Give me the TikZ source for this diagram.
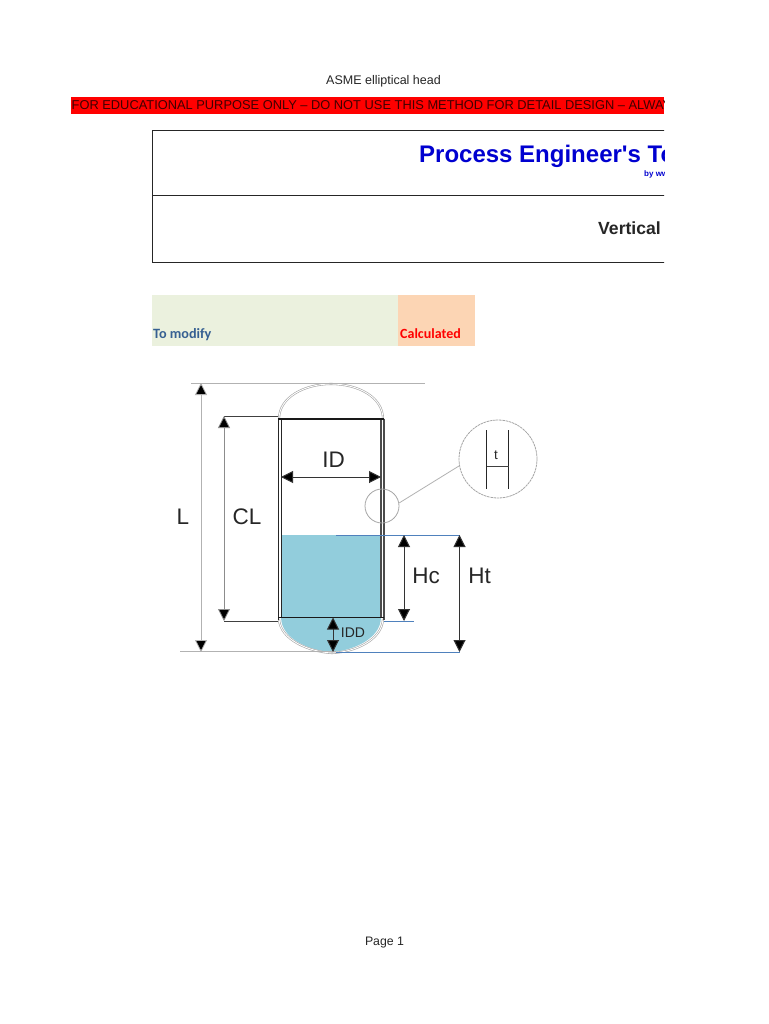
\documentclass[tikz,border=0pt]{standalone}
\usepackage{fontspec}
\setmainfont{Liberation Sans}
\newfontfamily\plainsans{Liberation Sans}
\newfontfamily\carl{Carlito}
\usetikzlibrary{arrows.meta}
\definecolor{liquid}{HTML}{92CDDC}
\definecolor{bluel}{HTML}{4F81BD}
\definecolor{legG}{HTML}{EBF1DE}
\definecolor{legO}{HTML}{FCD5B4}
\definecolor{legB}{HTML}{366092}
\definecolor{titleB}{HTML}{0000D0}
\tikzset{
  x=1pt,y=-1pt,
  txt/.style={inner sep=0pt,font=\fontsize{#1}{#1}\selectfont,text=black!85},
  tipped/.style={{Triangle[length=12pt,width=12pt,fill=black]}-{Triangle[length=12pt,width=12pt,fill=black]}},
  dimarrow/.style={draw=black!80,line width=1pt,tipped},
  ext/.style={draw=black!75,line width=1pt},
  bluer/.style={draw=bluel,line width=1pt},
  faint/.style={draw=black!30,line width=0.9pt},
  head/.style={draw=black!35,line width=0.6pt,double=white,double distance=0.9pt},
}
\begin{document}
\begin{tikzpicture}
\useasboundingbox (0,0) rectangle (768,1024);
\fill[white] (0,0) rectangle (768,1024);
\node[txt=12.5] (asme) at (383.5,81) {ASME elliptical head};
\node[txt=12.3] (page) at (384.5,943) {Page 1};
% clipped page content
\begin{scope}
\clip (0,0) rectangle (664,1024);
\fill[red] (71,97) rectangle (664,114);
\node[txt=12.85,anchor=west,text=black!75!red] (warn) at (71.5,105.5) {FOR EDUCATIONAL PURPOSE ONLY – DO NOT USE THIS METHOD FOR DETAIL DESIGN – ALWAY};
\draw[black!85,line width=1pt] (152,131) -- (680,131) (152,196) -- (680,196) (152,262) -- (680,262) (152,131) -- (152,262);
\node[anchor=base west,inner sep=0pt,text=titleB,font=\plainsans\fontsize{24}{24}\selectfont\bfseries] (title) at (419,163) {Process Engineer's To};
\node[anchor=base west,inner sep=0pt,text=titleB,font=\fontsize{8}{8}\selectfont\bfseries] (by) at (644,177) {by www};
\node[txt=17.6,anchor=base west,font=\fontsize{17.6}{17.6}\selectfont\bfseries] (vert) at (598,234) {Vertical};
\end{scope}
% legend
\fill[legG] (152,295) rectangle (398,346);
\fill[legO] (398,295) rectangle (475,346);
\node[anchor=base west,inner sep=0pt,text=legB,font=\carl\fontsize{14.2}{14}\selectfont\bfseries] (mod) at (153,338.5) {To modify};
\node[anchor=base west,inner sep=0pt,text=red,font=\carl\fontsize{14}{14}\selectfont\bfseries] (calc) at (400,338.5) {Calculated};
% liquid
\fill[liquid] (281,535) -- (381,535) -- (381,617) .. controls (381,640) and (350,651) .. (332,652) .. controls (312,651) and (281,640) .. (281,617) -- cycle;
% vessel heads
\draw[head] (279,419) .. controls (279,397) and (305,384) .. (331,384) .. controls (358,384) and (383,397) .. (383,419);
\draw[head] (279,619) .. controls (280,640) and (310,652) .. (332,653) .. controls (355,652) and (382,640) .. (383,619);
% vessel walls
\draw[black!85,line width=1.1pt] (278.5,419) -- (278.5,620) (281.5,419) -- (281.5,617);
\draw[black!70,line width=1.3pt] (381,419) -- (381,617) (384,419) -- (384,620);
\draw[black!90,line width=1.2pt] (278,419) -- (384,419) (278,617.5) -- (384,617.5);
% extension lines
\coordinate (Ltop) at (201,383); \coordinate (Lbot) at (201,652);
\coordinate (CLtop) at (224,416); \coordinate (CLbot) at (224,621);
\coordinate (IDl) at (281,477); \coordinate (IDr) at (381,477);
\coordinate (Hctop) at (404,535); \coordinate (Hcbot) at (404,621);
\coordinate (Httop) at (459.5,535); \coordinate (Htbot) at (459.5,652);
\coordinate (IDDtop) at (333,617.5); \coordinate (IDDbot) at (333,652);
\draw[faint] (191,383.3) -- (425,383.3);
\draw[faint] (180,651.7) -- (336,651.7);
\draw[ext] (CLtop) -- (278,416);
\draw[ext] (CLbot) -- (278,621);
\draw[bluer] (336,535) -- (Httop);
\draw[bluer] (384,621) -- (414,621);
\draw[bluer] (336,652) -- (Htbot);
% dimensions
\draw[tipped,draw=black!30,line width=0.8pt] (Ltop) -- (Lbot);
\draw[tipped,draw=black!45,line width=0.8pt] (CLtop) -- (CLbot);
\draw[dimarrow] (IDl) -- (IDr);
\draw[dimarrow] (Hctop) -- (Hcbot);
\draw[dimarrow] (Httop) -- (Htbot);
\draw[dimarrow] (IDDtop) -- (IDDbot);
% labels
\node[txt=22.5] (lL) at (183,517) {L};
\node[txt=22.5] (lCL) at (247,517) {CL};
\node[txt=22.5] (lID) at (333.5,460) {ID};
\node[txt=22.5] (lHc) at (426,576) {Hc};
\node[txt=22.5] (lHt) at (479.5,576) {Ht};
\node[txt=14] (lIDD) at (353,632.5) {IDD};
% detail circle
\node[draw=black!35,line width=0.8pt,circle,minimum size=34pt,inner sep=0pt] (small) at (382,506) {};
\node[draw=black!35,line width=0.8pt,dash pattern=on 2.5pt off 0.7pt,circle,minimum size=78pt,inner sep=0pt] (big) at (498,459) {};
\draw[faint,line width=0.8pt] (small.10) -- (big.190);
\coordinate (ta) at (486.5,430); \coordinate (tb) at (486.5,489);
\coordinate (tc) at (508.5,430); \coordinate (td) at (508.5,489);
\draw[black!85,line width=0.9pt] (ta) -- (tb) (tc) -- (td);
\draw[black!75,line width=0.9pt] (486.5,466) -- (508.5,466);
\node[txt=13.5] (lt) at (496,455) {t};
\end{tikzpicture}
\end{document}
